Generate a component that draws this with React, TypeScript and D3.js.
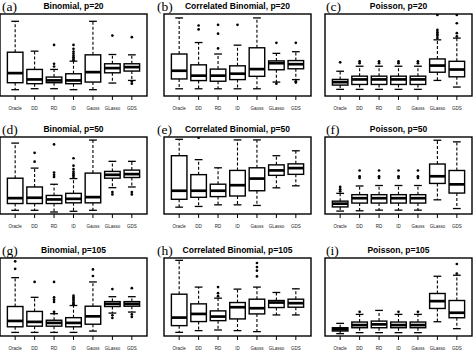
import React from "react";
import * as d3 from "d3";

const methods = ["Oracle", "DD", "RD", "ID", "Gauss", "GLasso", "GDS"];

// Each row: [lower whisker, Q1, median, Q3, upper whisker] (% of panel height)
const binom20Stats = [
  [7.7, 16.2, 27.9, 53.4, 91.1],
  [8.9, 15, 20.2, 32.4, 54.7],
  [8.9, 16.2, 19, 23.1, 32.4],
  [7.7, 15, 19, 27.1, 42.5],
  [7.7, 17, 29.1, 50.2, 91.1],
  [15.8, 28.3, 34, 39.3, 50.6],
  [19, 30.4, 35.2, 39.3, 50.2],
];
const binom20Out = [[], [], [62.3, 39.3, 36], [62.3, 57.5, 54, 51.5, 49, 47, 45, 43.5], [], [73.7], [71.7, 17.8, 15]];

const corr20Stats = [
  [8.8, 20.8, 30.8, 51.2, 95.2],
  [8.8, 18.8, 24.8, 38, 65.2],
  [8.8, 18, 24.8, 32.8, 51.2],
  [8.8, 20, 27.2, 36.8, 62],
  [8.8, 24, 32.8, 58.8, 95.2],
  [17, 32, 40, 42.8, 52],
  [20, 33.2, 38.8, 43.2, 54],
];
const corr20Out = [[], [86, 81.2], [86.8, 76, 58], [86.8], [], [64.8, 15], [64.8, 18, 16.4]];

const pois20Stats = [
  [8.1, 13.3, 16.9, 20.2, 30.2],
  [8.1, 14.1, 20.2, 24.2, 36.3],
  [8.1, 14.1, 20.2, 24.2, 36.3],
  [8.1, 14.1, 20.2, 24.2, 36.3],
  [8.1, 14.1, 20.2, 24.2, 36.3],
  [19, 29, 37.1, 45.2, 68.5],
  [10.9, 23.4, 32.3, 42.3, 70.6],
];
const pois20Out = [[41.1], [42.3, 40], [42.3, 40], [42.3, 40], [42.3, 40], [98.8, 80.6, 77.8, 75.4, 73.4, 70.6], [98.8, 88.7, 76.6, 72.6]];

const binom50Stats = [
  [4.8, 13.6, 20.6, 46.5, 92.1],
  [4.8, 13.6, 21.1, 35.1, 59.6],
  [2.6, 13.6, 18.9, 24.1, 38.6],
  [3.5, 14.5, 19.7, 26.8, 46],
  [4.8, 14.5, 21.9, 53.1, 96],
  [34.2, 46.5, 50.9, 55.3, 68.4],
  [35.1, 47.4, 51.8, 57, 68.4],
];
const binom50Out = [[], [79.4, 68], [90.4, 53.9, 50.9, 48.2], [72.4, 62.7, 58.3, 55, 52.5, 50.4, 48], [], [28.5, 25.4], [28.5, 25.4]];

const corr50Stats = [
  [8.9, 19.1, 30.2, 75.7, 97],
  [9.8, 21.7, 30.2, 51.1, 70.6],
  [11.9, 22.6, 30.2, 38.7, 60],
  [11.9, 23.4, 37.4, 56.6, 96.2],
  [11.1, 30.2, 46, 60, 96.2],
  [34, 50.2, 56.6, 63.8, 75.7],
  [36.6, 51.5, 59.6, 65.1, 82.1],
];
const corr50Out = [[], [99], [], [], [], [], []];

const pois50Stats = [
  [3.8, 9.2, 13.4, 16.7, 26.8],
  [4.2, 14.2, 20.5, 25.1, 36.4],
  [5, 14.2, 20.5, 25.1, 37],
  [5, 14.2, 20.5, 25.1, 37],
  [5, 14.2, 20.5, 25.1, 37],
  [18.4, 39.7, 49, 64.9, 95.8],
  [7.1, 27.2, 38.5, 56.5, 93.7],
];
const pois50Out = [[35.1, 32, 29.5], [56.5, 49, 46.9], [56.5, 49, 46.9], [56.5, 49, 46.9], [56.5, 49, 46.9], [], []];

const binom105Stats = [
  [4.6, 11.8, 19.3, 37.8, 74.8],
  [4.6, 12.6, 18.1, 31.5, 49.6],
  [4.6, 12.6, 16.8, 20.2, 28.6],
  [4.6, 11.8, 16.8, 23.5, 39.1],
  [6.3, 15.1, 25.2, 38.2, 69.3],
  [29.4, 37.8, 41.2, 44.1, 50.4],
  [30.7, 38.2, 41.2, 44.1, 50.4],
];
const binom105Out = [[95.8, 86.1], [69.3], [69.3, 49.6, 46.6, 43.7, 31], [51.7, 49.5, 47.5, 45.5, 43.3, 41.5, 40.3], [85.3, 76.9], [60.1, 26.5, 23.1], [61.3, 27.7, 24.4]];

const corr105Stats = [
  [4.7, 13.3, 23.6, 53.6, 97],
  [6.9, 18.5, 28.3, 41.2, 62.7],
  [7.7, 19.7, 24.9, 32.2, 48.5],
  [6.9, 21.9, 36.9, 42.9, 60.1],
  [5.6, 28.3, 35.6, 47.2, 62.7],
  [27, 36.5, 42.9, 45.5, 55.8],
  [27, 36.9, 42.1, 47.2, 60.5],
];
const corr105Out = [[], [], [62.7, 54.9, 51], [], [93.6, 88.4, 83.7, 76.4], [], []];

const pois105Stats = [
  [3, 6.4, 8.5, 10.6, 16.2],
  [4.3, 10.6, 14, 17.9, 27.7],
  [4.3, 10.6, 14.9, 19.1, 32.8],
  [4.3, 10.6, 14, 17.9, 27.7],
  [4.3, 10.6, 14, 17.9, 27.7],
  [18.3, 35.3, 44.7, 54.5, 76.6],
  [9.4, 23.4, 29.8, 45.5, 77.9],
];
const pois105Out = [[], [31], [], [31], [31], [], [92.3, 80]];

const letters = ["(a)", "(b)", "(c)", "(d)", "(e)", "(f)", "(g)", "(h)", "(i)"];
const titles = [
  "Binomial, p=20", "Correlated Binomial, p=20", "Poisson, p=20",
  "Binomial, p=50", "Correlated Binomial, p=50", "Poisson, p=50",
  "Binomial, p=105", "Correlated Binomial, p=105", "Poisson, p=105",
];
const statsList = [binom20Stats, corr20Stats, pois20Stats, binom50Stats, corr50Stats, pois50Stats, binom105Stats, corr105Stats, pois105Stats];
const outList = [binom20Out, corr20Out, pois20Out, binom50Out, corr50Out, pois50Out, binom105Out, corr105Out, pois105Out];

// layout
const colX = [0, 164, 325];
const panelW = 147;
const rowTop = [14, 137, 258];
const rowBottom = [96, 214, 336];
const letterX = [2, 157, 326];

function Panel({ idx }: { idx: number }) {
  const col = idx % 3;
  const row = Math.floor(idx / 3);
  const x0 = colX[col];
  const top = rowTop[row];
  const bottom = rowBottom[row];
  const xs = d3.scaleLinear().domain([0.22, 7.78]).range([x0, x0 + panelW]);
  const ys = d3.scaleLinear().domain([0, 100]).range([bottom, top]);
  const bw = xs(0.8) - xs(0);
  const stats = statsList[idx];
  const outs = outList[idx];
  const clipId = `clip${idx}`;
  return (
    <g>
      <defs>
        <clipPath id={clipId}>
          <rect x={x0} y={top} width={panelW} height={bottom - top} />
        </clipPath>
      </defs>
      <text x={letterX[col]} y={top - 3} fontFamily="'Liberation Serif', serif" fontSize={13.5}>
        {letters[idx]}
      </text>
      <text x={x0 + panelW / 2} y={top - 5} textAnchor="middle" fontFamily="'Liberation Sans', Arial, sans-serif" fontWeight="bold" fontSize={8.5}>
        {titles[idx]}
      </text>
      <g clipPath={`url(#${clipId})`}>
        {stats.map((s, i) => {
          const cx = xs(i + 1);
          const [lo, q1, med, q3, hi] = s;
          return (
            <g key={i}>
              <line x1={cx} x2={cx} y1={ys(q3)} y2={ys(hi)} stroke="#000" strokeWidth={1.1} strokeDasharray="3,2" />
              <line x1={cx} x2={cx} y1={ys(q1)} y2={ys(lo)} stroke="#000" strokeWidth={1.1} strokeDasharray="3,2" />
              <line x1={cx - bw / 4} x2={cx + bw / 4} y1={ys(hi)} y2={ys(hi)} stroke="#000" strokeWidth={1.3} />
              <line x1={cx - bw / 4} x2={cx + bw / 4} y1={ys(lo)} y2={ys(lo)} stroke="#000" strokeWidth={1.3} />
              <rect x={cx - bw / 2} y={ys(q3)} width={bw} height={ys(q1) - ys(q3)} fill="#fff" stroke="#000" strokeWidth={1.4} />
              <line x1={cx - bw / 2} x2={cx + bw / 2} y1={ys(med)} y2={ys(med)} stroke="#000" strokeWidth={2.7} />
              {outs[i].map((o, j) => (
                <circle key={j} cx={cx} cy={ys(o)} r={1.35} fill="#000" />
              ))}
            </g>
          );
        })}
      </g>
      <rect x={x0} y={top} width={panelW} height={bottom - top} fill="none" stroke="#000" strokeWidth={1.4} />
      {methods.map((m, i) => (
        <g key={m}>
          <line x1={xs(i + 1)} x2={xs(i + 1)} y1={bottom} y2={bottom + 4} stroke="#000" strokeWidth={1} />
          <text x={xs(i + 1)} y={bottom + 13.5} textAnchor="middle" fontFamily="'Liberation Sans', Arial, sans-serif" fontSize={4.5} fill="#222">
            {m}
          </text>
        </g>
      ))}
    </g>
  );
}

export default function App() {
  return (
    <svg width={474} height={355} style={{ position: "absolute", left: 0, top: 0, background: "#fff" }}>
      <rect width={474} height={355} fill="#fff" />
      {titles.map((_, i) => (
        <Panel key={i} idx={i} />
      ))}
    </svg>
  );
}
